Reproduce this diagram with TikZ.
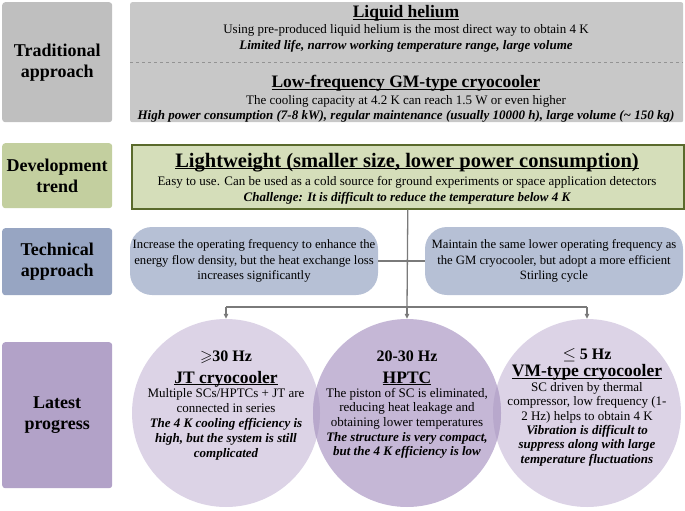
\documentclass[tikz,border=0pt]{standalone}
\usepackage{amsmath}
\usepackage{amssymb}
\usepackage{fontspec}
\setmainfont{Liberation Serif}
\usetikzlibrary{arrows.meta}
\definecolor{lgray}{HTML}{BFBFBF}
\definecolor{bgray}{HTML}{C8C8C8}
\definecolor{lgreen}{HTML}{C3CF9F}
\definecolor{bgreen}{HTML}{D5DEBA}
\definecolor{dgreen}{HTML}{5A6A2C}
\definecolor{lblue}{HTML}{97A5C2}
\definecolor{bblue}{HTML}{B6C0D5}
\definecolor{lpurp}{HTML}{B2A2C8}
\definecolor{cl}{HTML}{DCD3E6}
\definecolor{cm}{HTML}{C5B7D6}
\definecolor{cd}{HTML}{B8A8CC}
\definecolor{lnc}{HTML}{7A7A7A}
\newcommand\bodyf{\fontsize{13}{15}\selectfont}
\newcommand\bif{\bfseries\itshape}
\newcommand\bil[1]{{\bfseries\itshape #1}}
\newcommand\uln[1]{\leavevmode\setbox0\hbox{#1}\rlap{\rule[-2.4pt]{\wd0}{1.1pt}}\box0}
\begin{document}
\begin{tikzpicture}[x=1pt,y=-1pt,
  lblbox/.style={rounded corners=3pt, minimum width=110pt, anchor=north west, inner sep=0pt,
    font=\fontsize{18}{21}\selectfont\bfseries, align=center},
  ttl/.style={anchor=base, inner sep=0pt, font=\fontsize{17.5}{19}\selectfont\bfseries},
  bodyl/.style={anchor=base, inner sep=0pt, font=\bodyf},
  bil/.style={anchor=base, inner sep=0pt, font=\bodyf\bif},
  bluebox/.style={fill=bblue, rounded corners=22pt, minimum height=68pt, inner sep=0pt,
    align=center, font=\fontsize{12.7}{15.2}\selectfont},
  circ/.style={circle, minimum size=188pt, inner sep=0pt},
  hz/.style={anchor=base, inner sep=0pt, font=\fontsize{16}{18}\selectfont\bfseries},
  ctitle/.style={anchor=base, inner sep=0pt, font=\fontsize{17.5}{19}\selectfont\bfseries},
  ctext/.style={anchor=north, inner sep=0pt, align=center, font=\fontsize{13}{15}\selectfont},
  ln/.style={draw=lnc, line width=1.3pt},
  arr/.style={ln, -{Triangle[length=5pt,width=4.5pt]}}
]
\useasboundingbox (0,0) rectangle (685,511);
% left labels
\node[lblbox, fill=lgray, minimum height=120pt] (trad) at (2,2) {Traditional\\approach};
\node[lblbox, fill=lgreen, minimum height=65pt] (dev) at (2,143) {Development\\trend};
\node[lblbox, fill=lblue, minimum height=67pt] (tech) at (2,228) {Technical\\approach};
\node[lblbox, fill=lpurp, minimum height=146pt] (late) at (2,342) {Latest\\progress};
% traditional
\node[anchor=north west, fill=bgray, minimum width=553pt, minimum height=120pt,
  rounded corners=2pt, inner sep=0pt] (gb) at (130,2) {};
\coordinate (d1) at (130,62);
\coordinate (d2) at (683,62);
\draw[dashed, draw=gray!85, line width=0.8pt] (d1) -- (d2);
\node[ttl] (lh) at (406,18) {\uln{Liquid helium}};
\node[bodyl] (lh1) at (406,34) {Using pre-produced liquid helium is the most direct way to obtain 4 K};
\node[bil] (lh2) at (406,50) {Limited life, narrow working temperature range, large volume};
\node[ttl] (gm) at (406,88) {\uln{Low-frequency GM-type cryocooler}};
\node[bodyl] (gm1) at (406,104) {The cooling capacity at 4.2 K can reach 1.5 W or even higher};
\node[bil] (gm2) at (406,119) {High power consumption (7-8 kW), regular maintenance (usually 10000 h), large volume (\textasciitilde\ 150 kg)};
% development
\node[anchor=north west, fill=bgreen, draw=dgreen, line width=1.6pt, minimum width=552pt,
  minimum height=64pt, inner sep=0pt] (gr) at (131,144) {};
\node[anchor=base, inner sep=0pt, font=\fontsize{20.5}{22}\selectfont\bfseries] (lw) at (407,167)
  {\uln{Lightweight (smaller size, lower power consumption)}};
\node[bodyl] (lw1) at (407,185) {Easy to use. Can be used as a cold source for ground experiments or space application detectors};
\node[bil] (lw2) at (407,201) {Challenge: It is difficult to reduce the temperature below 4 K};
% technical
\node[bluebox, minimum width=248pt] (b1) at (254,261)
  {Increase the operating frequency to enhance the\\energy flow density, but the heat exchange loss\\increases significantly};
\node[bluebox, minimum width=258pt] (b2) at (554,261)
  {Maintain the same lower operating frequency as\\the GM cryocooler, but adopt a more efficient\\Stirling cycle};
% circles
\node[circ, fill=cl] (c1) at (226,413) {};
\node[circ, fill=cl] (c3) at (587,413) {};
\node[circ, fill=cm] (c2) at (407,413) {};
\begin{scope}
  \clip (c2.center) circle[radius=94pt];
  \fill[cd] (c1.center) circle[radius=94pt];
  \fill[cd] (c3.center) circle[radius=94pt];
\end{scope}
% connectors
\coordinate (j) at (407,307);
\coordinate (hl) at (226,307);
\coordinate (hr) at (587,307);
\draw[ln] (gr.south) -- (j);
\draw[ln] (b1.east) -- (b2.west);
\draw[ln] (hl) -- (hr);
\draw[arr] (hl) -- (c1.north);
\draw[arr] (j) -- (c2.north);
\draw[arr] (hr) -- (c3.north);
% circle texts
\node[hz] (h1) at (226,361) {$\boldsymbol{\geqslant}$30 Hz};
\node[ctitle] (t1) at (226,383) {\uln{JT cryocooler}};
\node[ctext] (x1) at (226,388) {Multiple SCs/HPTCs + JT are\\connected in series\\\bil{The 4 K cooling efficiency is}\\\bil{high, but the system is still}\\\bil{complicated}};
\node[hz] (h2) at (407,361) {20-30 Hz};
\node[ctitle] (t2) at (407,383) {\uln{HPTC}};
\node[ctext, font=\fontsize{13}{14.6}\selectfont] (x2) at (407,388) {The piston of SC is eliminated,\\reducing heat leakage and\\obtaining lower temperatures\\\bil{The structure is very compact,}\\\bil{but the 4 K efficiency is low}};
\node[hz] (h3) at (587,359) {$\leq$ 5 Hz};
\node[ctitle] (t3) at (587,376.5) {\uln{VM-type cryocooler}};
\node[ctext, font=\fontsize{13}{14.4}\selectfont] (x3) at (587,382) {SC driven by thermal\\compressor, low frequency (1-\\2 Hz) helps to obtain 4 K\\\bil{Vibration is difficult to}\\\bil{suppress along with large}\\\bil{temperature fluctuations}};
\end{tikzpicture}
\end{document}
